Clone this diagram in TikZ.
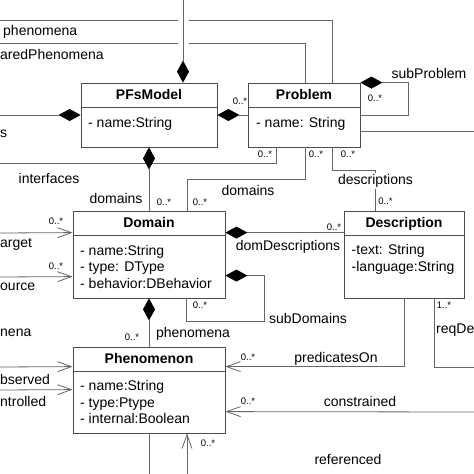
\documentclass[tikz,border=0pt]{standalone}
\usepackage{fontspec}
\setmainfont{Liberation Sans}
\usetikzlibrary{arrows.meta,calc}

\tikzset{
  classbox/.style={draw=black!70, line width=0.8bp, inner sep=0},
  boxline/.style={draw=black!70, line width=0.8bp},
  classname/.style={font=\fontsize{14bp}{16bp}\selectfont\bfseries, inner sep=0, text height=10bp, text depth=0bp},
  attrs/.style={font=\fontsize{14bp}{16.5bp}\selectfont, align=left, anchor=north west, inner sep=0},
  role/.style={font=\fontsize{14bp}{16bp}\selectfont, inner sep=0},
  mult/.style={font=\fontsize{9.5bp}{11bp}\selectfont, inner sep=0},
  link/.style={draw=black!60, line width=0.8bp},
  compo/.style={link, {Diamond[length=22bp,width=12bp,color=black]}-},
  assoc/.style={link, -{Straight Barb[length=14bp,width=10bp]}},
}

\begin{document}
\begin{tikzpicture}[x=1bp,y=-1bp]
  \useasboundingbox (0,0) rectangle (474,474);
  \clip (0,0) rectangle (474,474);

  % classes
  \node[classbox, minimum width=136bp, minimum height=64bp] (pfsmodel) at (149,115) {};
  \node[classbox, minimum width=112bp, minimum height=64bp] (problem) at (304,115) {};
  \node[classbox, minimum width=152bp, minimum height=87bp] (domain) at (149,254.5) {};
  \node[classbox, minimum width=120bp, minimum height=87bp] (description) at (404,254.5) {};
  \node[classbox, minimum width=152bp, minimum height=86bp] (phenomenon) at (149,390) {};

  \foreach \c/\t in {pfsmodel/PFsModel, problem/Problem, domain/Domain,
                     description/Description, phenomenon/Phenomenon} {
    \draw[boxline] ($(\c.north west)+(0,24.5)$) -- ($(\c.north east)+(0,24.5)$);
    \node[classname] (\c title) at ($(\c.north)+(0,12)$) {\t};
  }

  \node[attrs] (pfsmodelattr) at (88,117.5) {- name:String};
  \node[attrs] (problemattr) at (256,117.5) {- name: String};
  \node[attrs] (domainattr) at (80,245) {- name:String\\- type: DType\\- behavior:DBehavior};
  \node[attrs] (descriptionattr) at (351.5,244.5) {-text: String\\-language:String};
  \node[attrs] (phenomenonattr) at (80,380.5) {- name:String\\- type:Ptype\\- internal:Boolean};

  % free ends at the border
  \coordinate (topend) at (183,0);
  \coordinate (phenend) at (0,20);
  \coordinate (sharedend) at (0,43);
  \coordinate (leftend) at (0,115);
  \coordinate (rightend) at (474,131);
  \coordinate (interfend) at (0,163);
  \coordinate (targetend) at (0,233);
  \coordinate (sourceend) at (0,277);
  \coordinate (observedend) at (0,367);
  \coordinate (controlledend) at (0,390);
  \coordinate (reqend) at (474,367);
  \coordinate (constrend) at (474,412);
  \coordinate (refend) at (187,474);
  \coordinate (bottomend) at (149,474);

  % PFsModel and Problem
  \draw[compo] ($(pfsmodel.north)+(34,0)$) -- (topend);
  \draw[link] (phenend) -- (177.5,20);
  \draw[link] (188.5,20) -| ($(problem.north)+(28.5,0)$);
  \draw[link] (sharedend) -- (177.5,43);
  \draw[link] (188.5,43) -| ($(problem.north)+(1.5,0)$);
  \draw[compo] (pfsmodel.west) -- (leftend);
  \draw[compo] (pfsmodel.east) -- (problem.west);
  \draw[compo] (problem.north east) -- ++(48,0) |- (problem.east);
  \draw[link] ($(problem.east)+(0,16)$) -- (rightend);
  \draw[link] (interfend) -| ($(problem.south)+(-27.5,0)$);
  \draw[compo] (pfsmodel.south) -- (domain.north);
  \draw[link] ($(problem.south)+(1.5,0)$) -- ++(0,32) -| ($(domain.north)+(38,0)$);
  \draw[link] ($(problem.south)+(28.5,0)$) -- ++(0,23) -| ($(description.north)+(-29,0)$);

  % Domain
  \draw[assoc] (targetend) -- ($(domain.north west)+(0,22)$);
  \draw[assoc] (sourceend) -- ($(domain.north west)+(0,66)$);
  \draw[compo] ($(domain.north east)+(0,22)$) -- ($(description.north west)+(0,22)$);
  \draw[compo] ($(domain.north east)+(0,65)$) -- ++(39,0) |- ($(domain.south)+(37,23)$)
    -- ($(domain.south)+(37,0)$);
  \draw[compo] (domain.south) -- (phenomenon.north);

  % Phenomenon
  \draw[assoc] (observedend) -- ($(phenomenon.north west)+(0,20)$);
  \draw[assoc] (controlledend) -- ($(phenomenon.north west)+(0,43)$);
  \draw[assoc] (description.south) |- ($(phenomenon.north east)+(0,20)$);
  \draw[link] ($(description.south)+(30,0)$) |- (reqend);
  \draw[assoc] (constrend) -- ($(phenomenon.north east)+(0,65)$);
  \draw[assoc] (refend) -- ($(phenomenon.south)+(38,0)$);
  \draw[link] (phenomenon.south) -- (bottomend);

  % role names
  \node[role, anchor=west] (phenlabel) at (3,32) {phenomena};
  \node[role, anchor=west] (sharedlabel) at (0,54) {aredPhenomena};
  \node[role, anchor=west] (leftlabel) at (0,134) {s};
  \node[role] (interflabel) at (49,178) {interfaces};
  \node[role, anchor=west] (targetlabel) at (0,244) {arget};
  \node[role, anchor=west] (sourcelabel) at (0,287) {ource};
  \node[role, anchor=west] (phenleftlabel) at (0,333) {nena};
  \node[role, anchor=west] (observedlabel) at (0,379) {bserved};
  \node[role, anchor=west] (controlledlabel) at (0,401) {ntrolled};
  \node[role] (subproblemlabel) at (429,73) {subProblem};
  \node[role] (domainslabel) at (116,198) {domains};
  \node[role] (pdomainslabel) at (248,190) {domains};
  \node[role, fill=white, inner ysep=1bp] (descrlabel) at (375.5,181) {descriptions};
  \node[role] (domdescrlabel) at (288,247) {domDescriptions};
  \node[role] (subdomainslabel) at (308,318) {subDomains};
  \node[role] (phenomenalabel) at (193,334) {phenomena};
  \node[role, anchor=west] (reqlabel) at (436,330) {reqDe};
  \node[role] (predlabel) at (336,359) {predicatesOn};
  \node[role] (constrlabel) at (360,401) {constrained};
  \node[role] (reflabel) at (348,459) {referenced};

  % multiplicities
  \node[mult] (m1) at (240,101) {0..*};
  \node[mult] (m2) at (375,98) {0..*};
  \node[mult] (m3) at (265,154) {0..*};
  \node[mult] (m4) at (316,154) {0..*};
  \node[mult] (m5) at (348,154) {0..*};
  \node[mult] (m6) at (164,202) {0..*};
  \node[mult] (m7) at (200,202) {0..*};
  \node[mult] (m8) at (385.5,201.5) {0..*};
  \node[mult] (m9) at (56,221) {0..*};
  \node[mult] (m10) at (56,266) {0..*};
  \node[mult] (m11) at (334,227) {0..*};
  \node[mult] (m12) at (200,305) {0..*};
  \node[mult] (m13) at (444,305) {1..*};
  \node[mult] (m14) at (132,337) {0..*};
  \node[mult] (m15) at (248,357) {0..*};
  \node[mult] (m16) at (248,401) {0..*};
  \node[mult] (m17) at (208,443) {0..*};
\end{tikzpicture}
\end{document}
